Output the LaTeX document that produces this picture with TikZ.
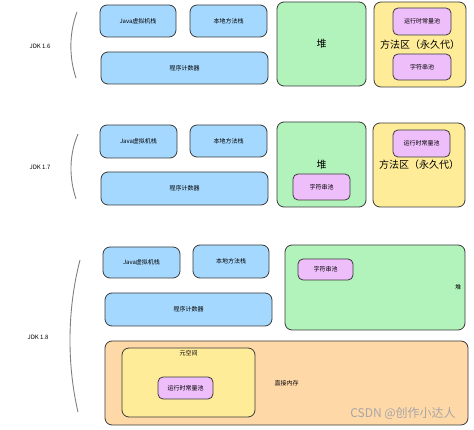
\documentclass[tikz,border=0pt]{standalone}
\usepackage{fontspec}
\newfontfamily\cjk{Noto Sans CJK SC}
\usepackage{xcolor}
\usepackage{tikz}
\usetikzlibrary{positioning, calc}

\definecolor{stackblue}{HTML}{A5D8FF}
\definecolor{heapgreen}{HTML}{B2F2BB}
\definecolor{areayellow}{HTML}{FFEC99}
\definecolor{poolpurple}{HTML}{EEBEFA}
\definecolor{directorange}{HTML}{FFD8A8}
\definecolor{edge}{HTML}{3A3A3A}

\begin{document}
\begin{tikzpicture}[x=1pt, y=-1pt,
  box/.style={draw=edge, line width=0.8pt, rounded corners=7pt, inner sep=0pt,
    font=\cjk\fontsize{6}{7}\selectfont},
  stackbox/.style={box, fill=stackblue},
  heapbox/.style={box, fill=heapgreen, font=\cjk\fontsize{10}{12}\selectfont},
  areabox/.style={box, fill=areayellow, font=\cjk\fontsize{10}{12}\selectfont},
  poolbox/.style={box, fill=poolpurple, rounded corners=5pt},
  txt/.style={font=\cjk\fontsize{6}{7}\selectfont, inner sep=0pt},
  brace/.style={draw=gray, line width=0.9pt}
]
  \useasboundingbox (0,0) rectangle (474,430);

  % JDK 1.6
  \node[txt] (jdk16) at (40,46) {JDK 1.6};
  \draw[brace] (77,12) .. controls (69,33) and (69,57) .. (76,78);
  \node[stackbox, minimum width=76, minimum height=32] (jvm16) at (138,21) {Java虚拟机栈};
  \node[stackbox, minimum width=77, minimum height=32] (native16) at (228.5,21) {本地方法栈};
  \node[stackbox, minimum width=167, minimum height=32] (pc16) at (184.5,68) {程序计数器};
  \node[heapbox, minimum width=89, minimum height=84] (heap16) at (321.5,44) {堆};
  \node[areabox, minimum width=92, minimum height=85] (method16) at (420,44.5) {方法区（永久代）};
  \node[poolbox, minimum width=58, minimum height=27] (rcp16) at (422,21.5) {运行时常量池};
  \node[poolbox, minimum width=58, minimum height=26] (str16) at (422,67) {字符串池};

  % JDK 1.7
  \node[txt] (jdk17) at (40,167) {JDK 1.7};
  \draw[brace] (78,134) .. controls (69,155) and (69,178) .. (76,199);
  \node[stackbox, minimum width=77, minimum height=33] (jvm17) at (138.5,141.5) {Java虚拟机栈};
  \node[stackbox, minimum width=77, minimum height=32] (native17) at (228.5,141) {本地方法栈};
  \node[stackbox, minimum width=167, minimum height=33] (pc17) at (184.5,188.5) {程序计数器};
  \node[heapbox, minimum width=89, minimum height=85] (heap17) at (321.5,164.5) {堆};
  \node[poolbox, minimum width=57, minimum height=26] (str17) at (321.5,187) {字符串池};
  \node[areabox, minimum width=92, minimum height=84] (method17) at (419,165) {方法区（永久代）};
  \node[poolbox, minimum width=57, minimum height=27] (rcp17) at (421.5,143.5) {运行时常量池};

  % JDK 1.8
  \node[txt] (jdk18) at (38,337) {JDK 1.8};
  \draw[brace] (80,260) .. controls (67,310) and (67,365) .. (78,412);
  \node[stackbox, minimum width=77, minimum height=31] (jvm18) at (141.5,262.5) {Java虚拟机栈};
  \node[stackbox, minimum width=76, minimum height=33] (native18) at (231,261.5) {本地方法栈};
  \node[stackbox, minimum width=167, minimum height=33] (pc18) at (188.5,309.5) {程序计数器};
  \node[heapbox, minimum width=180, minimum height=85] (heap18) at (375,287.5) {};
  \node[txt, anchor=east] (heaplbl18) at ([xshift=-4pt]heap18.east) {堆};
  \node[poolbox, minimum width=55, minimum height=21] (str18) at (325.5,269.5) {字符串池};

  % direct memory with metaspace
  \node[box, fill=directorange, minimum width=363, minimum height=84] (direct18) at (286.5,383) {直接内存};
  \node[box, fill=areayellow, minimum width=133, minimum height=69] (meta18) at (188.5,382.5) {};
  \node[txt] (metalbl18) at ([yshift=-6pt]meta18.north) {元空间};
  \node[poolbox, minimum width=55, minimum height=22] (rcp18) at (185.5,388) {运行时常量池};

  % watermark
  \node[font=\cjk\fontsize{12}{14}\selectfont, text=gray!70, inner sep=0pt] (wmark) at (403,414) {CSDN @创作小达人};
\end{tikzpicture}
\end{document}
